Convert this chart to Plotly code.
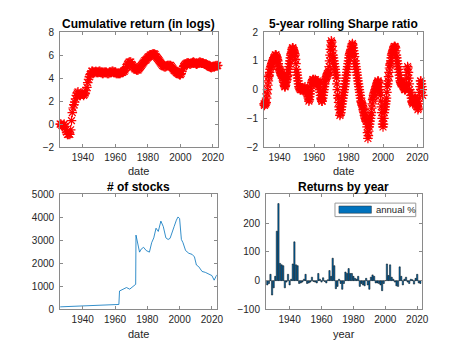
import plotly.graph_objects as go

# ---------------- data ----------------
# cumulative log return, half-year samples from 1926.0 to 2023.0
cum_start, cum_step = 1926.0, 0.5
cum_logret = [
    0.0, 0.0, -0.1, -0.2, -0.1, 0.0, -0.2, -0.5, -0.7, -0.9,        # 1926-1930
    -0.9, -0.85, -0.9, -0.5, 0.3, 1.0, 1.4, 1.7, 1.9, 2.2,          # 1931-1935
    2.5, 2.7, 2.8, 2.6, 2.5, 2.5, 2.6, 2.7, 2.6, 2.5,               # 1936-1940
    2.6, 2.7, 2.9, 3.2, 3.6, 3.9, 4.1, 4.3, 4.4, 4.6,               # 1941-1945
    4.6, 4.5, 4.5, 4.5, 4.6, 4.5, 4.5, 4.5, 4.6, 4.6,               # 1946-1950
    4.5, 4.5, 4.4, 4.4, 4.5, 4.5, 4.5, 4.5, 4.4, 4.4,               # 1951-1955
    4.4, 4.5, 4.5, 4.5, 4.6, 4.6, 4.5, 4.5, 4.5, 4.4,               # 1956-1960
    4.4, 4.4, 4.4, 4.4, 4.4, 4.5, 4.5, 4.5, 4.6, 4.6,               # 1961-1965
    4.7, 4.9, 5.0, 5.2, 5.3, 5.4, 5.4, 5.4, 5.2, 5.1,               # 1966-1970
    5.0, 4.9, 4.8, 4.8, 4.7, 4.7, 4.7, 4.8, 4.9, 5.0,               # 1971-1975
    5.1, 5.2, 5.3, 5.4, 5.5, 5.55, 5.6, 5.7, 5.8, 5.85,             # 1976-1980
    5.9, 6.0, 6.0, 6.05, 6.1, 6.1, 6.1, 6.05, 5.9, 5.8,             # 1981-1985
    5.7, 5.6, 5.5, 5.4, 5.3, 5.2, 5.1, 5.05, 5.0, 5.0,              # 1986-1990
    5.0, 5.05, 5.1, 5.1, 5.1, 5.1, 5.1, 5.0, 4.9, 4.8,              # 1991-1995
    4.7, 4.65, 4.6, 4.5, 4.45, 4.4, 4.35, 4.3, 4.3, 4.4,            # 1996-2000
    4.6, 4.8, 5.0, 5.1, 5.2, 5.25, 5.3, 5.3, 5.3, 5.25,             # 2001-2005
    5.2, 5.25, 5.3, 5.35, 5.4, 5.35, 5.3, 5.25, 5.2, 5.25,          # 2006-2010
    5.3, 5.35, 5.4, 5.35, 5.3, 5.3, 5.3, 5.25, 5.2, 5.2,            # 2011-2015
    5.2, 5.15, 5.1, 5.05, 5.0, 4.95, 4.9, 4.95, 5.0, 5.0,           # 2016-2020
    5.0, 5.05, 5.1, 5.05, 5.1]                                      # 2021-2023

# 5-year rolling Sharpe ratio, quarterly samples from 1931.0 to 2023.0
sharpe_start, sharpe_step = 1931.0, 0.25
sharpe = [
    -0.5, -0.55, -0.5, -0.45,   -0.5, -0.45, -0.3, -0.15,   0.0, 0.15, 0.3, 0.45,     # 1931-33
    0.5, 0.6, 0.7, 0.75,        0.8, 0.85, 0.9, 0.95,       1.0, 1.0, 1.05, 1.1,      # 1934-36
    1.1, 1.15, 1.2, 1.2,        1.2, 1.15, 1.1, 1.05,       1.0, 0.9, 0.8, 0.75,      # 1937-39
    0.7, 0.65, 0.6, 0.55,       0.5, 0.55, 0.5, 0.45,       0.4, 0.3, 0.25, 0.15,     # 1940-42
    0.1, 0.1, 0.15, 0.25,       0.3, 0.35, 0.45, 0.5,       0.6, 0.7, 0.8, 0.9,       # 1943-45
    1.0, 1.1, 1.2, 1.25,        1.3, 1.4, 1.45, 1.45,       1.4, 1.35, 1.3, 1.25,     # 1946-48
    1.2, 1.05, 0.9, 0.7,        0.6, 0.5, 0.4, 0.3,         0.2, 0.1, 0.05, 0.1,      # 1949-51
    0.0, 0.05, 0.0, 0.05,       0.0, 0.05, 0.0, -0.05,      0.0, 0.05, 0.0, 0.1,      # 1952-54
    0.0, -0.05, 0.0, 0.0,       -0.1, -0.15, -0.25, -0.3,   -0.4, -0.35, -0.25, -0.15,  # 1955-57
    -0.05, 0.05, 0.15, 0.25,    0.3, 0.35, 0.3, 0.35,       0.3, 0.25, 0.3, 0.35,     # 1958-60
    0.3, 0.25, 0.2, 0.25,       0.3, 0.25, 0.2, 0.2,        0.1, 0.0, -0.1, -0.2,     # 1961-63
    -0.3, -0.35, -0.4, -0.4,    -0.3, -0.2, -0.1, 0.0,      0.1, 0.2, 0.3, 0.35,      # 1964-66
    0.4, 0.45, 0.5, 0.55,       0.55, 0.6, 0.65, 0.8,       1.0, 1.2, 1.4, 1.55,      # 1967-69
    1.7, 1.65, 1.5, 1.35,       1.2, 1.1, 1.0, 0.9,         0.8, 0.7, 0.6, 0.5,       # 1970-72
    0.4, 0.2, 0.0, -0.2,        -0.3, -0.45, -0.6, -0.7,    -0.9, -0.85, -0.8, -0.7,  # 1973-75
    -0.6, -0.5, -0.4, -0.3,     -0.2, -0.1, 0.0, 0.1,       0.2, 0.3, 0.4, 0.5,       # 1976-78
    0.6, 0.7, 0.8, 0.9,         1.0, 1.1, 1.2, 1.25,        1.3, 1.35, 1.4, 1.5,      # 1979-81
    1.55, 1.6, 1.55, 1.45,      1.35, 1.25, 1.15, 1.0,      0.9, 0.8, 0.7, 0.6,       # 1982-84
    0.5, 0.4, 0.3, 0.2,         0.1, 0.0, -0.1, -0.2,       -0.3, -0.4, -0.45, -0.5,  # 1985-87
    -0.55, -0.6, -0.7, -0.75,   -0.8, -0.9, -0.95, -1.0,    -1.05, -1.1, -1.1, -1.3,  # 1988-90
    -1.5, -1.7, -1.6, -1.45,    -1.3, -1.2, -1.1, -1.0,     -0.9, -0.8, -0.65, -0.5,  # 1991-93
    -0.35, -0.3, -0.2, -0.15,   -0.1, -0.05, 0.0, 0.05,     0.1, 0.15, 0.2, 0.25,     # 1994-96
    0.3, 0.3, 0.25, 0.1,        0.0, -0.1, -0.2, -0.4,      -0.6, -0.8, -1.0, -1.2,   # 1997-99
    -1.3, -1.2, -1.0, -0.8,     -0.7, -0.6, -0.5, -0.4,     -0.3, -0.1, 0.1, 0.2,     # 2000-02
    0.3, 0.45, 0.6, 0.75,       0.85, 0.9, 1.0, 1.1,        1.2, 1.25, 1.3, 1.35,     # 2003-05
    1.4, 1.45, 1.5, 1.5,        1.5, 1.45, 1.35, 1.2,       1.1, 1.0, 0.9, 0.8,       # 2006-08
    0.7, 0.6, 0.5, 0.4,         0.3, 0.25, 0.2, 0.25,       0.2, 0.2, 0.15, 0.1,      # 2009-11
    0.1, 0.05, 0.0, 0.05,       0.0, 0.05, 0.2, 0.4,        0.6, 0.8, 0.75, 0.6,      # 2012-14
    0.4, 0.2, 0.0, -0.1,        -0.1, -0.2, -0.3, -0.4,     -0.45, -0.5, -0.45, -0.4, # 2015-17
    -0.35, -0.3, -0.35, -0.3,   -0.3, -0.4, -0.5, -0.55,    -0.6, -0.7, -0.65, -0.5,  # 2018-20
    -0.3, -0.1, 0.1, 0.3,       0.3, 0.2, 0.1, 0.0,                                   # 2021-22
    -0.2]                                                                             # 2023

# number of stocks
stocks_date = [1926.0, 1944.0, 1962.4, 1962.8, 1965.0, 1967.1, 1969.1, 1971.2, 1972.8, 1973.0,
               1975.2, 1976.2, 1977.7, 1979.3, 1981.3, 1982.7, 1984.0, 1985.4, 1986.8, 1988.4,
               1989.9, 1991.5, 1992.9, 1994.1, 1995.6, 1996.6, 1998.0, 1999.0, 2000.0, 2001.1,
               2002.1, 2003.7, 2005.7, 2007.8, 2009.2, 2010.4, 2011.8, 2013.9, 2015.9, 2017.9,
               2020.0, 2021.4, 2022.6, 2023.0]
stocks_n = [110, 150, 215, 800, 880, 950, 880, 1020, 1090, 3230,
            2490, 2620, 2700, 2560, 2490, 2900, 3110, 3530, 3390, 3840,
            3600, 3110, 3040, 3090, 3460, 3600, 3880, 4020, 3950, 3040,
            2900, 2560, 2440, 2390, 2280, 1930, 1860, 1650, 1610, 1550,
            1470, 1270, 1440, 1500]

# annual returns (%)
years_ret = list(range(1926, 2023))
annual_ret = [-15, -10, 22, -50, -25, 15, 172, 268, 60, 55,
              52, -25, -5, 22, -15, 5, 58, 135, 55, 52,
              -10, -8, -5, 5, 22, -10, -8, -5, 12, -3,
              -5, -8, 25, 5, -5, 10, -3, -8, 3, 35,
              15, 78, 52, -28, -20, 5, -10, -30, -10, 30,
              25, 42, 25, 25, 15, 8, 5, 15, -20, -10,
              -15, -18, 8, -15, -30, 12, 20, 15, -8, -8,
              -10, -15, -35, -10, 0, 58, 18, 55, 12, 5,
              -5, -18, -20, 48, 15, -15, 5, 12, -5, -10,
              5, 3, -12, 8, 22, -8, -10]

titles = ["Cumulative return (in logs)", "5-year rolling Sharpe ratio",
          "# of stocks", "Returns by year"]
xlabels = ["date", "date", "date", "year"]
year_ticks = [1940, 1960, 1980, 2000, 2020]

cum_dates = [cum_start + cum_step * i for i in range(len(cum_logret))]
sharpe_dates = [sharpe_start + sharpe_step * i for i in range(len(sharpe))]

# ---------------- layout helpers ----------------
W, H = 474, 355
def px(x):
    return x / W
def py(y):
    return 1 - y / H

FONT = "Liberation Sans, Arial, Helvetica, sans-serif"
AX_COLOR = "#8a8a8a"
TICK_FONT = dict(family=FONT, size=10, color="#262626")

def axis_style(**kw):
    d = dict(showline=True, linecolor=AX_COLOR, linewidth=1, mirror="ticks",
             ticks="inside", ticklen=3, tickcolor=AX_COLOR, tickwidth=1,
             showgrid=False, zeroline=False, tickfont=TICK_FONT)
    d.update(kw)
    return d

# axes pixel boxes: (left, right, top, bottom)
boxes = [(61, 221, 27, 146), (268, 429, 27, 146),
         (61, 220, 195, 314), (270, 428, 195, 314)]

fig = go.Figure()

red_marker = dict(symbol="asterisk-open", size=8, color="red",
                  line=dict(color="red", width=1.2))
fig.add_trace(go.Scatter(x=cum_dates, y=cum_logret, mode="markers",
                         marker=red_marker, xaxis="x", yaxis="y",
                         cliponaxis=False, showlegend=False))
fig.add_trace(go.Scatter(x=sharpe_dates, y=sharpe, mode="markers",
                         marker=red_marker, xaxis="x2", yaxis="y2",
                         cliponaxis=False, showlegend=False))
fig.add_trace(go.Scatter(x=stocks_date, y=stocks_n, mode="lines",
                         line=dict(color="#0072BD", width=0.8),
                         xaxis="x3", yaxis="y3", showlegend=False))
fig.add_trace(go.Bar(x=years_ret, y=annual_ret, width=0.8,
                     marker=dict(color="#0072BD", line=dict(color="black", width=0.5)),
                     xaxis="x4", yaxis="y4", showlegend=False, name="annual %"))

xranges = [[cum_dates[0], cum_dates[-1]], [sharpe_dates[0], sharpe_dates[-1]],
           [stocks_date[0], stocks_date[-1]], [1925.2, 2022.8]]
yaxes = [dict(range=[-2, 8], tickvals=[-2, 0, 2, 4, 6, 8]),
         dict(range=[-2, 2], tickvals=[-2, -1, 0, 1, 2]),
         dict(range=[0, 5000], tickvals=[0, 1000, 2000, 3000, 4000, 5000]),
         dict(range=[-100, 300], tickvals=[-100, 0, 100, 200, 300])]

layout = dict(width=W, height=H, margin=dict(l=0, r=0, t=0, b=0),
              paper_bgcolor="white", plot_bgcolor="white", showlegend=False)
for i, (l, r, t, b) in enumerate(boxes):
    n = "" if i == 0 else str(i + 1)
    layout["xaxis" + n] = axis_style(domain=[px(l), px(r)], anchor="y" + n,
                                     range=xranges[i], tickvals=year_ticks,
                                     ticklabelstandoff=1)
    layout["yaxis" + n] = axis_style(domain=[py(b), py(t)], anchor="x" + n,
                                     ticklabelstandoff=3, **yaxes[i])
fig.update_layout(**layout)

annotations = []
for i, (l, r, t, b) in enumerate(boxes):
    cx = (l + r) / 2
    annotations.append(dict(text="<b>" + titles[i] + "</b>", x=px(cx), y=py(t - 8),
                            xref="paper", yref="paper", showarrow=False,
                            xanchor="center", yanchor="middle",
                            font=dict(family=FONT, size=12, color="black")))
    annotations.append(dict(text=xlabels[i], x=px(cx), y=py(b + 25),
                            xref="paper", yref="paper", showarrow=False,
                            xanchor="center", yanchor="middle",
                            font=dict(family=FONT, size=11, color="#262626")))
# legend of the bar chart (drawn as a box like the original)
annotations.append(dict(text="annual %", x=px(380), y=py(211), xref="paper", yref="paper",
                        showarrow=False, xanchor="left", yanchor="middle",
                        font=dict(family=FONT, size=9.5, color="#262626")))
fig.update_layout(annotations=annotations)

fig.update_layout(shapes=[
    dict(type="rect", xref="paper", yref="paper", x0=px(340), x1=px(422),
         y0=py(218), y1=py(204), line=dict(color="#9a9a9a", width=1),
         fillcolor="white", layer="above"),
    dict(type="rect", xref="paper", yref="paper", x0=px(344), x1=px(377),
         y0=py(214.5), y1=py(207), line=dict(color="#333333", width=0.5),
         fillcolor="#0072BD", layer="above"),
])

fig.write_html("out.html",
               config={"displayModeBar": False, "staticPlot": True},
               post_script="document.body.style.margin='0';document.body.style.padding='0';")
